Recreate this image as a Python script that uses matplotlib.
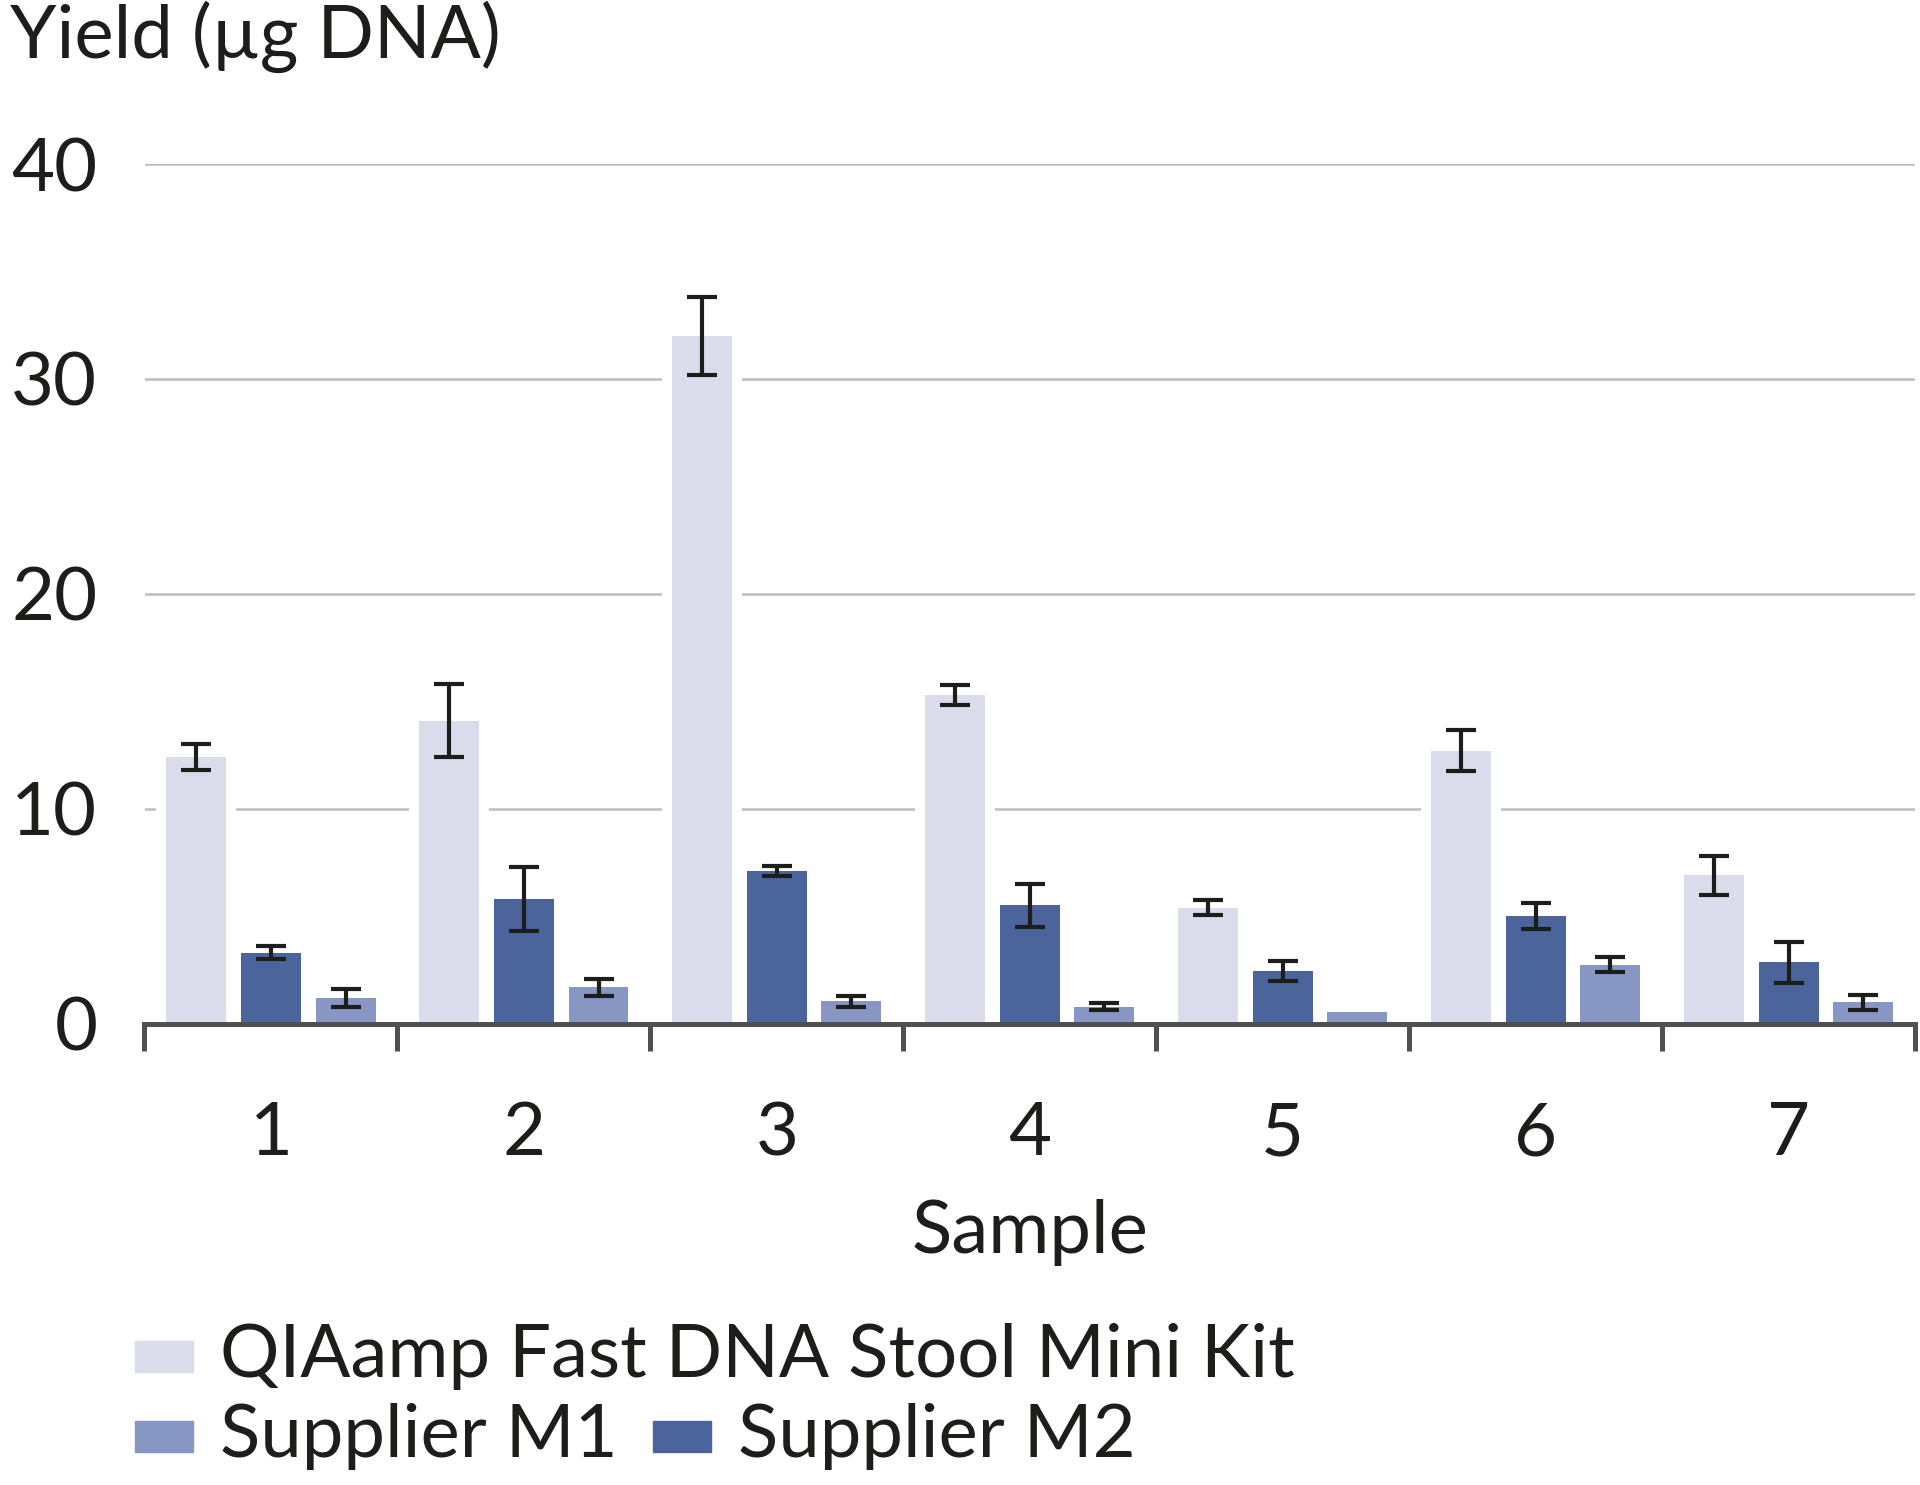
import numpy as np
import matplotlib
matplotlib.use("Agg")
import matplotlib.pyplot as plt
from matplotlib.patches import Rectangle

plt.rcParams["font.family"] = ["Lato", "DejaVu Sans"]

# values (µg DNA), mean and error
samples = ["1", "2", "3", "4", "5", "6", "7"]
qiaamp = [12.4, 14.1, 32.0, 15.3, 5.4, 12.7, 6.9]
qiaamp_err = [0.6, 1.7, 1.8, 0.45, 0.35, 0.95, 0.9]
supplier_m2 = [3.3, 5.8, 7.1, 5.5, 2.45, 5.0, 2.85]
supplier_m2_err = [0.3, 1.5, 0.25, 1.0, 0.45, 0.6, 0.95]
supplier_m1 = [1.2, 1.7, 1.05, 0.8, 0.55, 2.75, 1.0]
supplier_m1_err = [0.4, 0.4, 0.25, 0.15, 0.0, 0.35, 0.35]
series_names = ["QIAamp Fast DNA Stool Mini Kit", "Supplier M1", "Supplier M2"]

C_Q = "#dadcec"
C_M1 = "#8796c3"
C_M2 = "#4b649b"
TEXT = "#1d1d1b"
AXIS = "#505050"
GRID = "#bdbdbd"
FS = 53.5

fig = plt.figure(figsize=(19.2, 14.85), dpi=100)
ax = fig.add_axes([144.5 / 1920, 1 - 1023.7 / 1485,
                   (1915 - 144.5) / 1920, (1023.7 - 164) / 1485])

x = np.arange(len(samples))
bw = 0.237
step = 0.295
pad = 0.04

groups = [(qiaamp, qiaamp_err, C_Q, -step),
          (supplier_m2, supplier_m2_err, C_M2, 0.0),
          (supplier_m1, supplier_m1_err, C_M1, step)]

for vals, errs, col, off in groups:
    # white halo that cuts the gridlines around each bar
    ax.bar(x + off, vals, width=bw + 2 * pad, color="white", zorder=1)
    ax.bar(x + off, vals, width=bw, color=col, zorder=2)
    vals = np.asarray(vals)
    errs = np.asarray(errs)
    m = errs > 0
    ax.errorbar((x + off)[m], vals[m], yerr=errs[m], fmt="none",
                ecolor=TEXT, elinewidth=3.0, capsize=10.5, capthick=3.0,
                zorder=3)

ax.set_xlim(-0.5, len(samples) - 0.5)
ax.set_ylim(0, 40)
ax.set_yticks([0, 10, 20, 30, 40])
ax.yaxis.grid(True, color=GRID, linewidth=1.8, zorder=0)
ax.set_axisbelow(True)

for s in ["top", "right", "left"]:
    ax.spines[s].set_visible(False)
ax.spines["bottom"].set_color(AXIS)
ax.spines["bottom"].set_linewidth(3.6)
ax.spines["bottom"].set_zorder(4)

ax.set_xticks(x)
ax.set_xticklabels(samples)
ax.set_xticks(np.arange(len(samples) + 1) - 0.5, minor=True)
ax.tick_params(axis="x", which="major", length=0, pad=56,
               labelsize=FS, labelcolor=TEXT)
ax.tick_params(axis="x", which="minor", length=19.5, width=3.6,
               color=AXIS, direction="out")
ax.tick_params(axis="y", length=0, pad=34, labelsize=FS, labelcolor=TEXT)

ax.set_xlabel("Sample", fontsize=FS, color=TEXT, labelpad=22)
fig.text(10 / 1920, 1 - 37 / 1485, "Yield (µg DNA)", fontsize=FS,
         color=TEXT, ha="left", va="center")

# legend laid out by hand: one entry on the first row, two on the second
def legend_entry(px, py, color, label):
    fig.patches.append(Rectangle((px / 1920, 1 - (py + 15.5) / 1485),
                                 58 / 1920, 31 / 1485, color=color,
                                 transform=fig.transFigure, figure=fig))
    fig.text((px + 85) / 1920, 1 - py / 1485, label, fontsize=FS,
             color=TEXT, ha="left", va="center")

legend_entry(135, 1356, C_Q, series_names[0])
legend_entry(135, 1436, C_M1, series_names[1])
legend_entry(653, 1436, C_M2, series_names[2])

fig.savefig("out.png", dpi=100, facecolor="white")
